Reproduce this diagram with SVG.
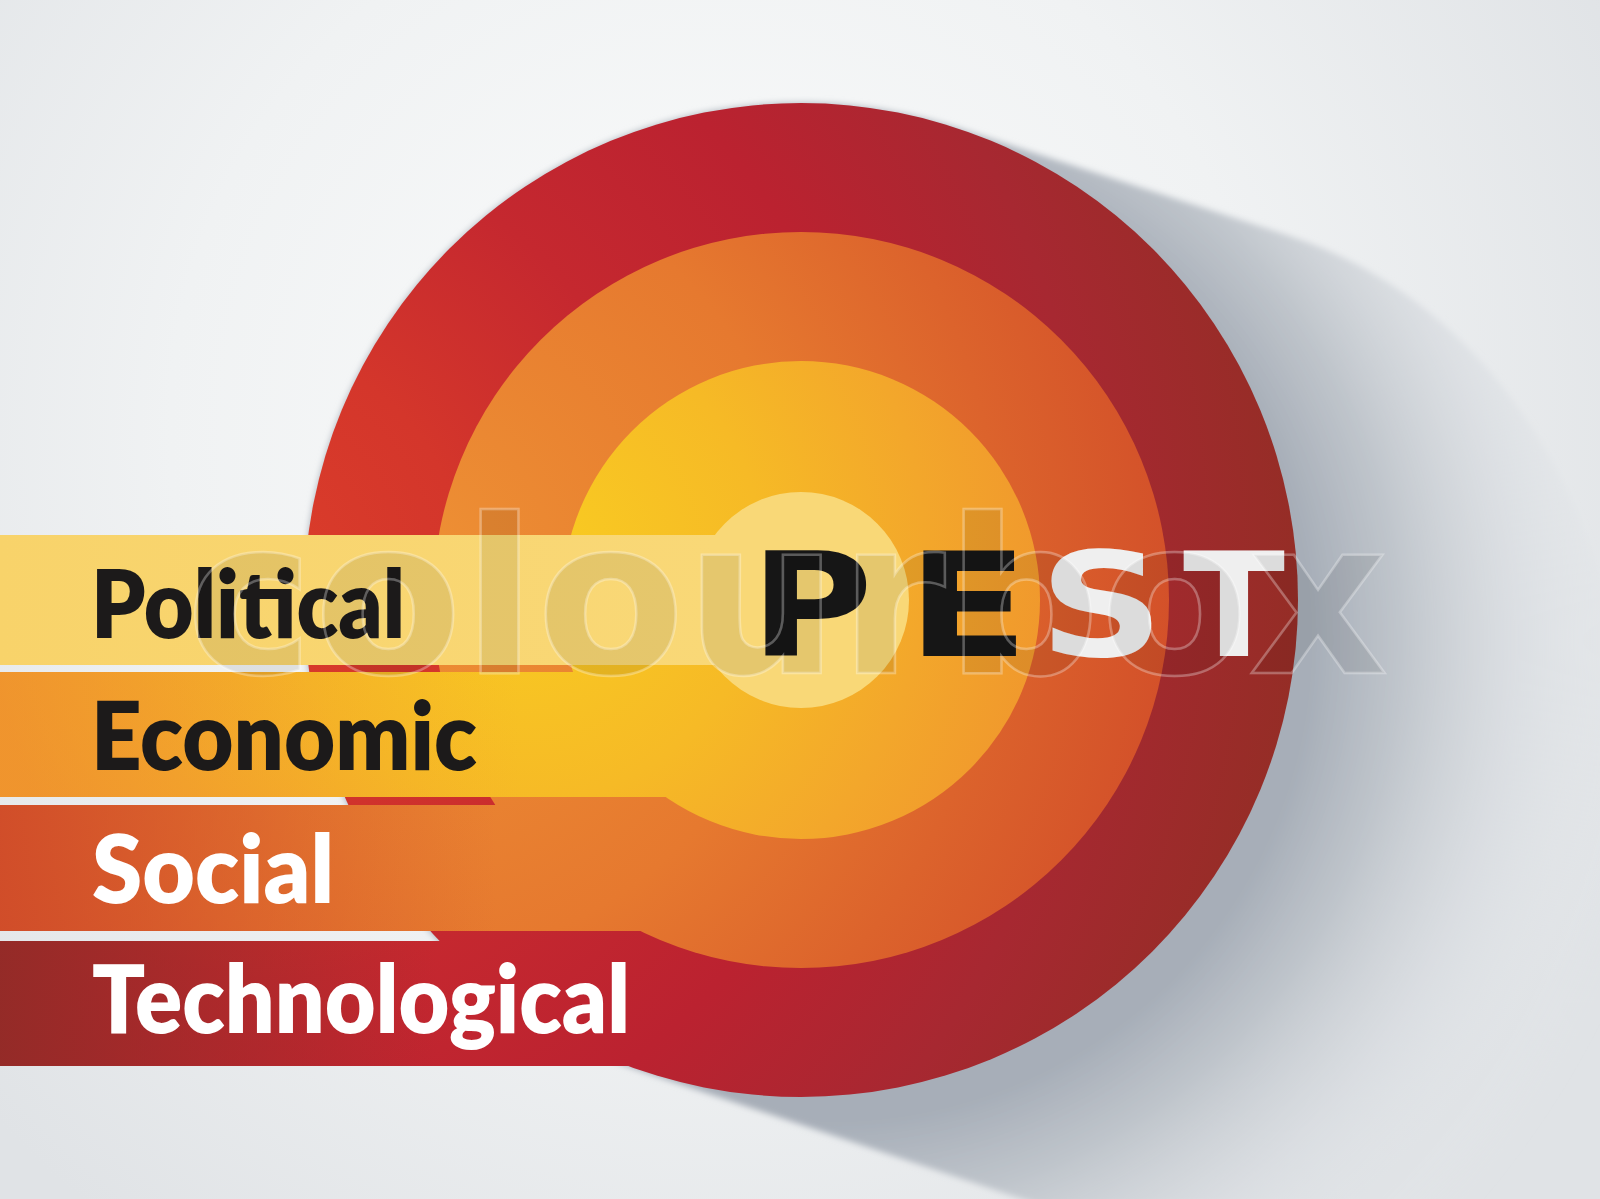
<svg xmlns="http://www.w3.org/2000/svg" width="1600" height="1199" viewBox="0 0 1600 1199">
  <defs>
    <radialGradient id="bg" gradientUnits="userSpaceOnUse" cx="720" cy="430" r="1000">
      <stop offset="0" stop-color="#fbfcfc"/>
      <stop offset="0.55" stop-color="#f0f2f3"/>
      <stop offset="1" stop-color="#e0e3e6"/>
    </radialGradient>
    <radialGradient id="shadowGrad" gradientUnits="userSpaceOnUse" cx="830" cy="640" r="860">
      <stop offset="0" stop-color="#a4abb5" stop-opacity="1"/>
      <stop offset="0.56" stop-color="#a7aeb8" stop-opacity="1"/>
      <stop offset="0.66" stop-color="#bac0c7" stop-opacity="0.9"/>
      <stop offset="0.8" stop-color="#d3d7dc" stop-opacity="0.55"/>
      <stop offset="0.92" stop-color="#e3e6e9" stop-opacity="0.15"/>
      <stop offset="1" stop-color="#e6e9ec" stop-opacity="0"/>
    </radialGradient>
    <filter id="soft" filterUnits="userSpaceOnUse" x="0" y="0" width="1600" height="1199">
      <feGaussianBlur stdDeviation="3"/>
    </filter>
    <radialGradient id="gradTech" gradientUnits="userSpaceOnUse" cx="250" cy="560" r="1050">
      <stop offset="0" stop-color="#db3d2a"/>
      <stop offset="0.2" stop-color="#d4362b"/>
      <stop offset="0.4" stop-color="#c5282f"/>
      <stop offset="0.6" stop-color="#bb2230"/>
      <stop offset="0.8" stop-color="#a72831"/>
      <stop offset="1" stop-color="#952d26"/>
    </radialGradient>
    <radialGradient id="gradSocial" gradientUnits="userSpaceOnUse" cx="400" cy="560" r="800">
      <stop offset="0" stop-color="#ee9134"/>
      <stop offset="0.5" stop-color="#e6792f"/>
      <stop offset="0.75" stop-color="#dc632c"/>
      <stop offset="1" stop-color="#d24e29"/>
    </radialGradient>
    <radialGradient id="gradEcon" gradientUnits="userSpaceOnUse" cx="520" cy="560" r="540">
      <stop offset="0" stop-color="#f9cd21"/>
      <stop offset="0.45" stop-color="#f6ba26"/>
      <stop offset="0.75" stop-color="#f3a72b"/>
      <stop offset="1" stop-color="#f0972d"/>
    </radialGradient>
    <linearGradient id="gradPol" gradientUnits="userSpaceOnUse" x1="0" y1="0" x2="715" y2="0">
      <stop offset="0" stop-color="#f8d36a"/>
      <stop offset="1" stop-color="#f9d877"/>
    </linearGradient>
    <linearGradient id="shadeTech" gradientUnits="userSpaceOnUse" x1="0" y1="0" x2="436" y2="0">
      <stop offset="0" stop-color="#922b27" stop-opacity="0.95"/>
      <stop offset="1" stop-color="#922b27" stop-opacity="0"/>
    </linearGradient>
    <linearGradient id="shadeSocial" gradientUnits="userSpaceOnUse" x1="0" y1="0" x2="496" y2="0">
      <stop offset="0" stop-color="#cf4a29" stop-opacity="0.9"/>
      <stop offset="1" stop-color="#cf4a29" stop-opacity="0"/>
    </linearGradient>
    <linearGradient id="shadeEcon" gradientUnits="userSpaceOnUse" x1="0" y1="0" x2="520" y2="0">
      <stop offset="0" stop-color="#ef922e" stop-opacity="0.5"/>
      <stop offset="1" stop-color="#ef922e" stop-opacity="0"/>
    </linearGradient>
    <style>
      .label { font-family: "Lato", "Liberation Sans", sans-serif; font-weight: 800; font-size: 95px; }
      .dark { fill: #1c1a1a; }
      .light { fill: #ffffff; }
      .big { font-family: "DejaVu Sans", "Liberation Sans", sans-serif; font-weight: 700; font-size: 144px; }
      .wm { font-family: "DejaVu Sans", "Liberation Sans", sans-serif; font-weight: 700; font-size: 215px; fill: #000000; fill-opacity: 0.08; stroke: #ffffff; stroke-opacity: 0.3; stroke-width: 2.5px; }
    </style>
  </defs>

  <g id="background">
    <rect x="0" y="0" width="1600" height="1199" fill="url(#bg)"/>
  </g>

  <g id="shadow" filter="url(#soft)">
    <path d="M 955 127 L 1290 236 C 1470 295 1600 470 1625 700 L 1625 1205 L 1040 1205 L 647 1073 A 497 497 0 0 1 328 446 A 497 497 0 0 1 955 127 Z" fill="url(#shadowGrad)"/>
  </g>

  <g id="layer-technological">
    <circle cx="801" cy="600" r="497" fill="url(#gradTech)"/>
    <rect x="0" y="941" width="801" height="125" fill="url(#gradTech)"/>
    <rect x="0" y="941" width="436" height="125" fill="url(#shadeTech)"/>
  </g>

  <g id="layer-social">
    <circle cx="801" cy="600" r="368" fill="url(#gradSocial)"/>
    <rect x="0" y="805" width="801" height="126" fill="url(#gradSocial)"/>
    <rect x="0" y="805" width="496" height="126" fill="url(#shadeSocial)"/>
  </g>

  <g id="layer-economic">
    <circle cx="801" cy="600" r="239" fill="url(#gradEcon)"/>
    <rect x="0" y="672" width="801" height="125" fill="url(#gradEcon)"/>
    <rect x="0" y="672" width="520" height="125" fill="url(#shadeEcon)"/>
  </g>

  <g id="layer-political">
    <circle cx="801" cy="600" r="108" fill="url(#gradPol)"/>
    <rect x="0" y="535" width="801" height="130" fill="url(#gradPol)"/>
  </g>

  <g id="labels">
    <text class="label dark" x="91" y="638" textLength="314" lengthAdjust="spacingAndGlyphs">Political</text>
    <text class="label dark" x="91" y="770" textLength="386" lengthAdjust="spacingAndGlyphs">Economic</text>
    <text class="label light" x="92" y="903" textLength="242" lengthAdjust="spacingAndGlyphs">Social</text>
    <text class="label light" x="92" y="1033" textLength="538" lengthAdjust="spacingAndGlyphs">Technological</text>
  </g>

  <g id="title">
    <text class="big" x="750" y="656" fill="#161616" textLength="123" lengthAdjust="spacingAndGlyphs">P</text>
    <text class="big" x="907" y="656" fill="#161616" textLength="122" lengthAdjust="spacingAndGlyphs">E</text>
    <text class="big" x="1039" y="656" fill="#efefef" textLength="125" lengthAdjust="spacingAndGlyphs">S</text>
    <text class="big" x="1183" y="656" fill="#efefef" textLength="102" lengthAdjust="spacingAndGlyphs">T</text>
  </g>

  <g id="watermark">
    <text class="wm" x="186" y="673" textLength="1202" lengthAdjust="spacingAndGlyphs">colourbox</text>
  </g>
</svg>
